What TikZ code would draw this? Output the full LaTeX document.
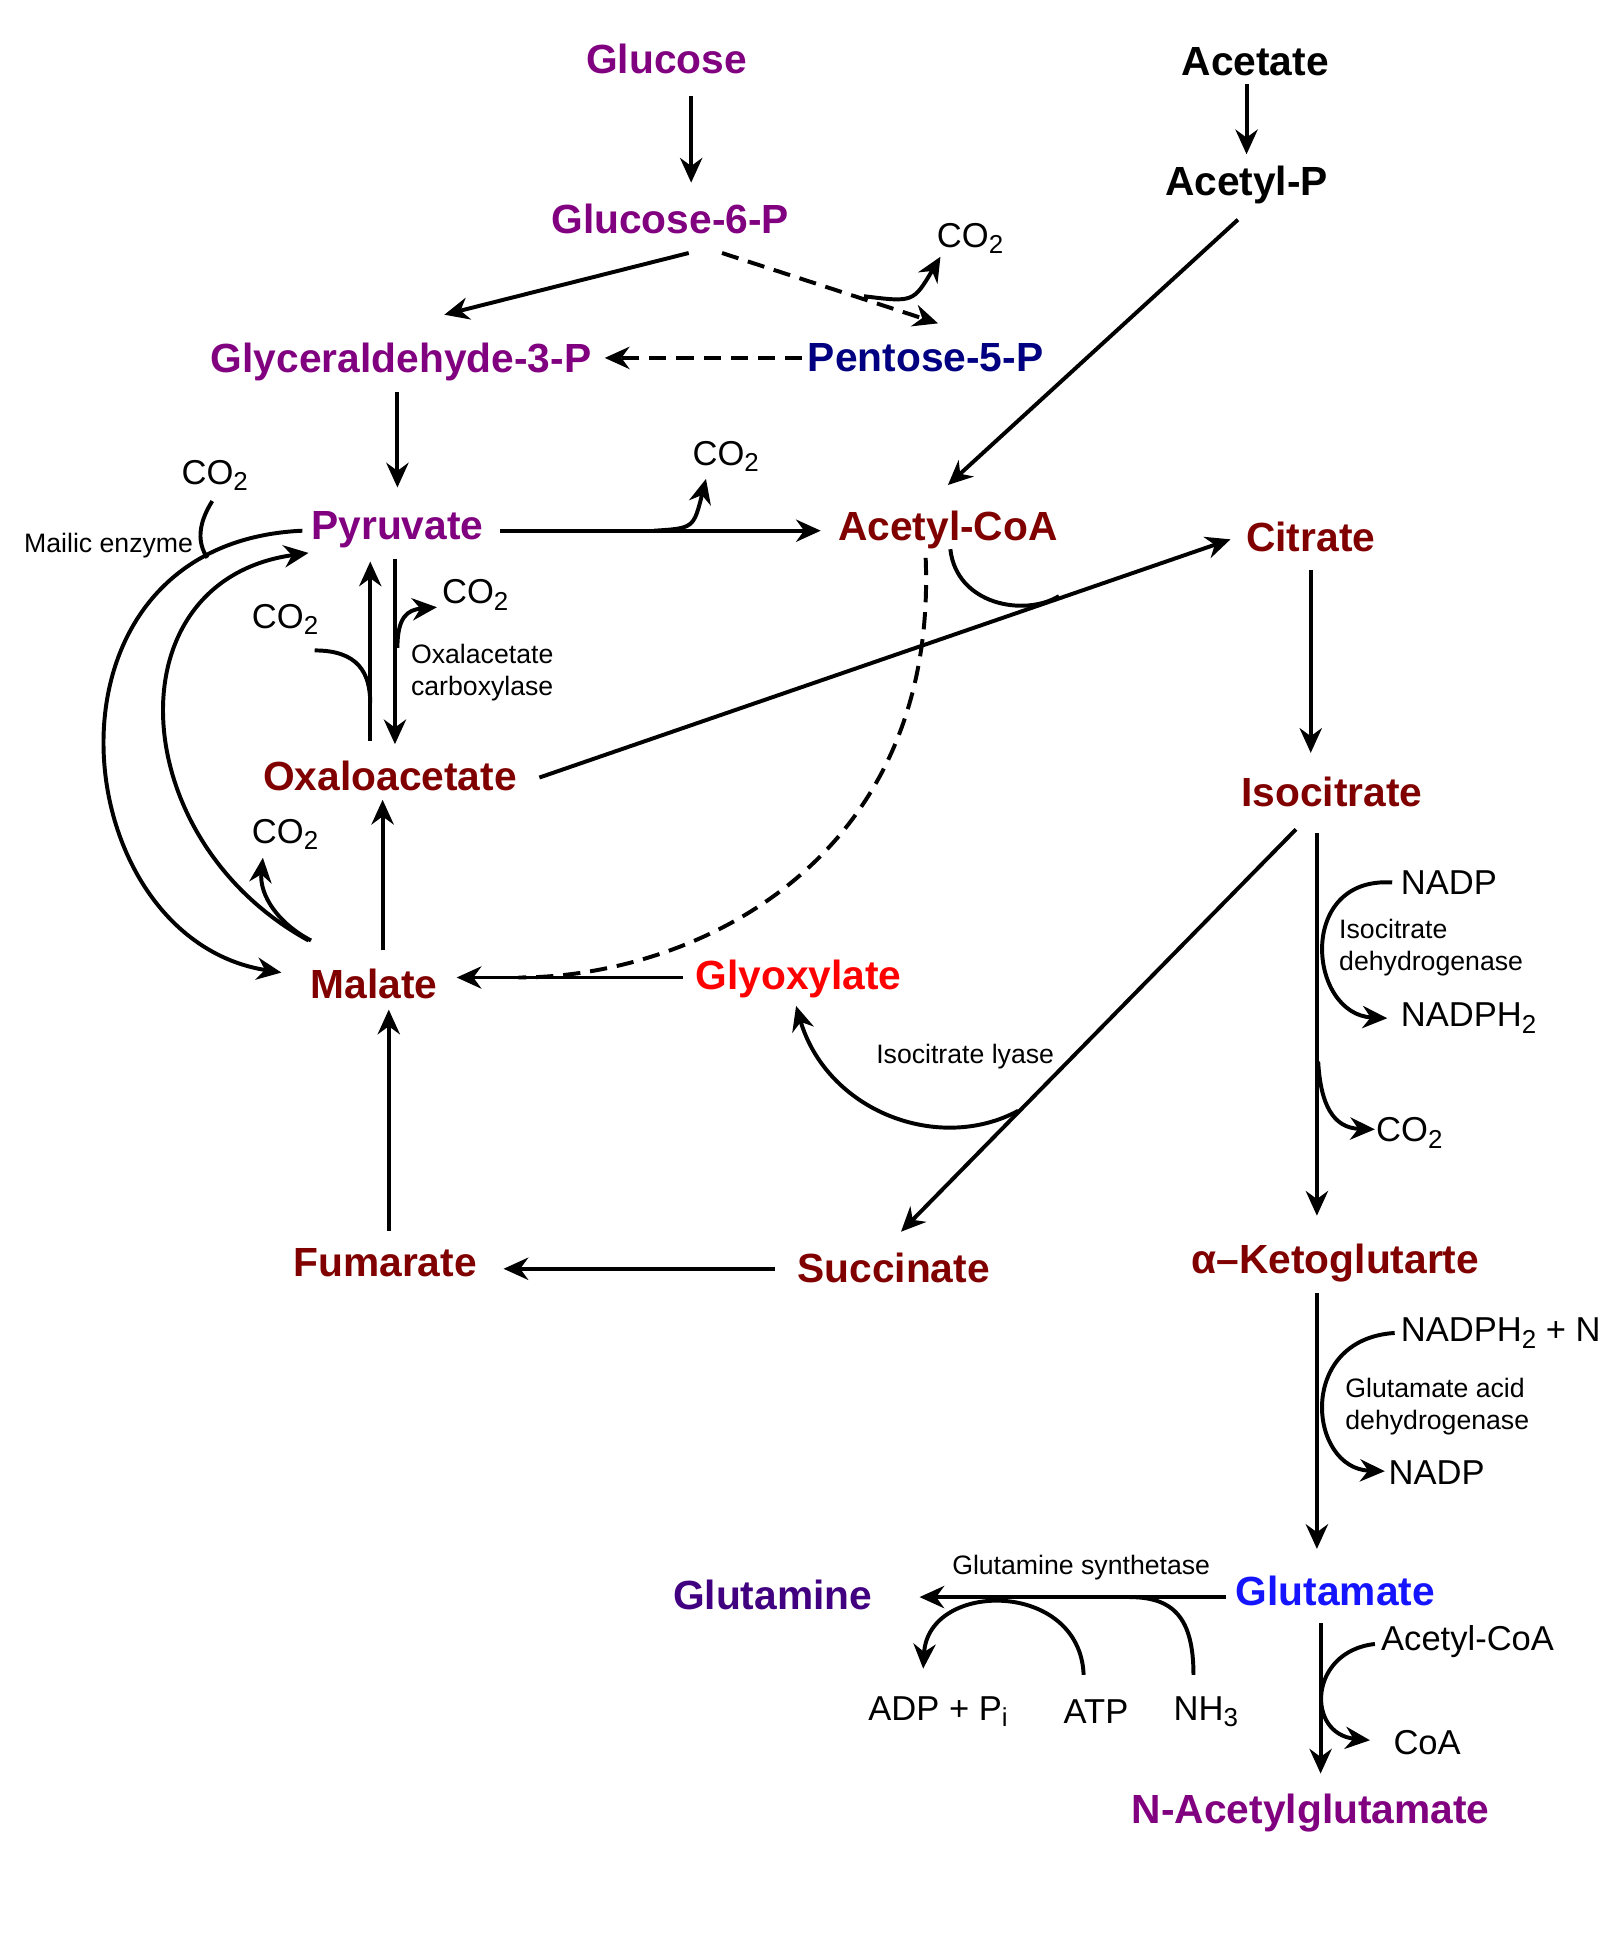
\documentclass[tikz,border=0pt]{standalone}
\usepackage{fontspec}
\setmainfont{Liberation Sans}
\usetikzlibrary{arrows.meta}
\definecolor{cpur}{RGB}{128,0,128}
\definecolor{cred}{RGB}{128,0,0}
\definecolor{cnavy}{RGB}{0,0,128}
\definecolor{cbr}{RGB}{255,0,0}
\definecolor{cblue}{RGB}{20,20,255}
\definecolor{cind}{RGB}{64,0,128}
\newcommand{\lsub}[1]{\raisebox{-0.35ex}{\fontsize{10.5}{12}\selectfont #1}}
\begin{document}
\begin{tikzpicture}[x=0.5pt,y=-0.5pt,
  big/.style={font=\fontsize{16.5}{18}\selectfont\bfseries},
  mid/.style={font=\fontsize{14}{16}\selectfont},
  sm/.style={font=\fontsize{10.8}{13}\selectfont,align=left},
  ar/.style={line width=1.6pt,-{Stealth[length=10pt,width=9pt]}},
  ln/.style={line width=1.6pt},
  da/.style={ar,dash pattern=on 7pt off 4pt}]
\useasboundingbox (0,0) rectangle (1296,1567);
\node[big] (glc) at (540,48) {\textcolor{cpur}{Glucose}};
\node[big] (ace) at (1017,50) {Acetate};
\node[big] (g6p) at (543,177) {\textcolor{cpur}{Glucose-6-P}};
\node[big] (acp) at (1010,150) {Acetyl-P};
\node[mid] (co2a) at (786,193) {CO\lsub{2}};
\node[big] (gap) at (325,293) {\textcolor{cpur}{Glyceraldehyde-3-P}};
\node[big] (pen) at (750,290) {\textcolor{cnavy}{Pentose-5-P}};
\node[mid] (co2b) at (588,370) {CO\lsub{2}};
\node[mid] (co2c) at (174,385) {CO\lsub{2}};
\node[sm] (me) at (88,442) {Mailic enzyme};
\node[big] (pyr) at (322,429) {\textcolor{cpur}{Pyruvate}};
\node[big] (acoa) at (768,429) {\textcolor{cred}{Acetyl-CoA}};
\node[big] (cit) at (1062,435) {\textcolor{cred}{Citrate}};
\node[mid] (co2d) at (231,502) {CO\lsub{2}};
\node[mid] (co2e) at (385,482) {CO\lsub{2}};
\node[sm,anchor=west] (oc) at (326,545) {Oxalacetate\\carboxylase};
\node[big] (oaa) at (316,629) {\textcolor{cred}{Oxaloacetate}};
\node[big] (ici) at (1079,642) {\textcolor{cred}{Isocitrate}};
\node[mid] (co2f) at (231,676) {CO\lsub{2}};
\node[mid,anchor=west] (nadp1) at (1128,715) {NADP};
\node[sm,anchor=west] (idh) at (1078,768) {Isocitrate\\dehydrogenase};
\node[mid,anchor=west] (nadph1) at (1128,825) {NADPH\lsub{2}};
\node[big] (mal) at (303,797) {\textcolor{cred}{Malate}};
\node[big] (gly) at (647,793) {\textcolor{cbr}{Glyoxylate}};
\node[sm] (il) at (782,856) {Isocitrate lyase};
\node[mid,anchor=west] (co2g) at (1108,918) {CO\lsub{2}};
\node[big] (fum) at (312,1023) {\textcolor{cred}{Fumarate}};
\node[big] (suc) at (724,1027) {\textcolor{cred}{Succinate}};
\node[big] (akg) at (1082,1023) {\textcolor{cred}{α–Ketoglutarte}};
\node[mid,anchor=west] (nadph2) at (1128,1080) {NADPH\lsub{2} + NADP};
\node[sm,anchor=west] (gdh) at (1083,1140) {Glutamate acid\\dehydrogenase};
\node[mid,anchor=west] (nadp2) at (1118,1193) {NADP};
\node[sm] (gs) at (876,1270) {Glutamine synthetase};
\node[big] (gln) at (626,1292) {\textcolor{cind}{Glutamine}};
\node[big] (glu) at (1082,1289) {\textcolor{cblue}{Glutamate}};
\node[mid,anchor=west] (acoa2) at (1112,1330) {Acetyl-CoA};
\node[mid] (adp) at (760,1387) {ADP + P\lsub{i}};
\node[mid] (atp) at (888,1387) {ATP};
\node[mid] (nh3) at (977,1387) {NH\lsub{3}};
\node[mid,anchor=west] (coa) at (1122,1412) {CoA};
\node[big] (nag) at (1062,1469) {\textcolor{cpur}{N-Acetylglutamate}};

\draw[ar] (560,78) -- (560,148);
\draw[ar] (1010,68) -- (1010,125);
\draw[ar] (558,205) -- (360,255);
\draw[da] (585,205) -- (760,262);
\draw[ar] (700,240) .. controls (740,245) .. (762,208);
\draw[da] (650,290) -- (490,290);
\draw[ar] (1003,178) -- (768,393);
\draw[ar] (322,318) -- (322,395);
\draw[ar] (405,430) -- (665,430);
\draw[ar] (530,430) .. controls (562,428) .. (572,388);
\draw[ar] (437,630) -- (997,437);
\draw[ln] (770,445) .. controls (775,490) and (830,500) .. (858,483);
\draw[ln,dash pattern=on 7pt off 4pt] (750,452) .. controls (760,700) and (560,792) .. (420,792);
\draw[ar] (553,792) -- (370,792);
\draw[ar] (1062,462) -- (1062,610);
\draw[ar] (320,453) -- (320,603);
\draw[ar] (322,525) .. controls (322,500) and (330,494) .. (354,492);
\draw[ar] (300,600) -- (300,455);
\draw[ln] (255,527) .. controls (290,527) and (300,545) .. (300,570);
\draw[ar] (310,770) -- (310,648);
\draw[ar] (252,762) .. controls (225,748) and (210,725) .. (213,695);
\draw[ar] (250,762) .. controls (100,680) and (90,470) .. (250,448);
\draw[ar] (245,430) .. controls (20,440) and (50,760) .. (228,788);
\draw[ln] (172,406) .. controls (160,425) and (160,440) .. (168,452);
\draw[ar] (315,997) -- (315,818);
\draw[ar] (628,1028) -- (408,1028);
\draw[ar] (1050,672) -- (730,998);
\draw[ar] (825,900) .. controls (760,935) and (670,900) .. (645,815);
\draw[ar] (1067,675) -- (1067,985);
\draw[ar] (1128,715) .. controls (1050,710) and (1060,822) .. (1124,825);
\draw[ar] (1068,860) .. controls (1070,895) and (1080,914) .. (1114,915);
\draw[ar] (1067,1048) -- (1067,1255);
\draw[ar] (1130,1080) .. controls (1050,1085) and (1060,1190) .. (1122,1192);
\draw[ar] (993,1294) -- (745,1294);
\draw[ar] (878,1357) .. controls (875,1280) and (752,1280) .. (748,1352);
\draw[ln] (967,1357) .. controls (967,1310) and (950,1294) .. (915,1294);
\draw[ar] (1070,1315) -- (1070,1437);
\draw[ar] (1114,1332) .. controls (1060,1338) and (1058,1405) .. (1110,1410);
\end{tikzpicture}
\end{document}
